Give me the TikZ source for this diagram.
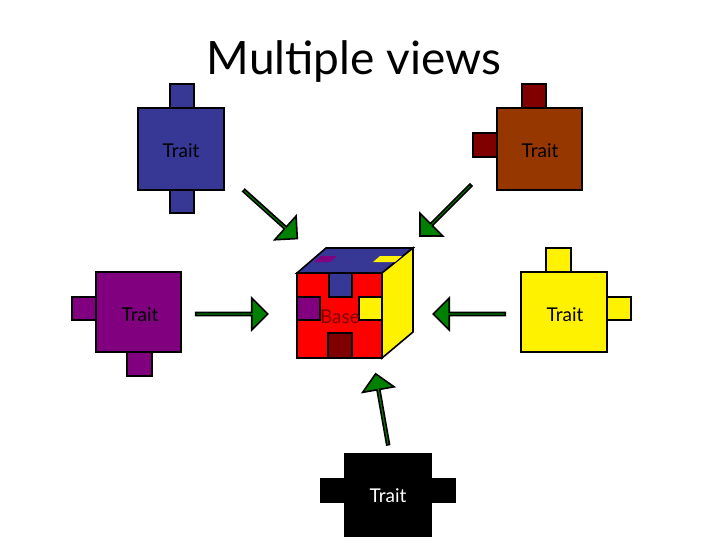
\documentclass[tikz,border=0pt]{standalone}
\usepackage{fontspec}
\setmainfont{Lato}
\usetikzlibrary{shapes.arrows}
\definecolor{traitblue}{RGB}{55,55,150}
\definecolor{traitbrown}{RGB}{150,55,0}
\definecolor{traitdark}{RGB}{128,0,0}
\definecolor{traitpurple}{RGB}{128,0,128}
\definecolor{traitgreen}{RGB}{0,128,0}
\tikzset{
  part/.style={draw=black, line width=1.6pt},
  trait/.style={font=\fontsize{19}{19}\selectfont},
  bigarrow/.style={single arrow, draw=black, line width=1.6pt, fill=traitgreen,
    minimum width=32pt, single arrow head extend=8pt, minimum height=72pt,
    inner sep=0pt, single arrow tip angle=90},
}
\begin{document}
\begin{tikzpicture}[x=1pt,y=-1pt]
    \useasboundingbox (0,0) rectangle (728,546);
    \node (title) at (354,62) {\fontsize{46}{46}\selectfont Multiple views};
    %blue
    \filldraw[part, fill=traitblue] (170,84) rectangle (194,108);
    \filldraw[part, fill=traitblue] (170,190) rectangle (194,213);
    \filldraw[part, fill=traitblue] (138,108) rectangle (224,190);
    \node[trait] (tblue) at (181,151) {Trait};
    %brown
    \filldraw[part, fill=traitdark] (522,84) rectangle (546,108);
    \filldraw[part, fill=traitdark] (473,133) rectangle (497,157);
    \filldraw[part, fill=traitbrown] (497,108) rectangle (582,190);
    \node[trait] (tbrown) at (540,151) {Trait};
    %purple
    \filldraw[part, fill=traitpurple] (72,297) rectangle (96,320);
    \filldraw[part, fill=traitpurple] (127,352) rectangle (152,376);
    \filldraw[part, fill=traitpurple] (96,272) rectangle (181,352);
    \node[trait] (tpurple) at (140,315) {Trait};
    %yellow
    \filldraw[part, fill=yellow] (546,248) rectangle (571,272);
    \filldraw[part, fill=yellow] (607,297) rectangle (631,320);
    \filldraw[part, fill=yellow] (521,272) rectangle (607,352);
    \node[trait] (tyellow) at (565,315) {Trait};
    %black
    \fill (320,478) rectangle (456,503);
    \fill (344,453) rectangle (432,537);
    \node[trait, text=white] (tblack) at (388,496) {Trait};
    %cube
    \filldraw[part, fill=traitblue] (297,273) -- (326,248) -- (413,248) -- (382,273) -- cycle;
    \filldraw[part, fill=yellow] (382,273) -- (413,248) -- (413,332) -- (382,358) -- cycle;
    \filldraw[part, fill=red] (297,273) rectangle (382,358);
    \filldraw[part, fill=traitblue] (329,273) rectangle (352,297);
    \filldraw[part, fill=traitpurple] (297,297) rectangle (320,320);
    \filldraw[part, fill=yellow] (359,297) rectangle (382,320);
    \filldraw[part, fill=traitdark] (328,333) rectangle (352,358);
    \fill[traitpurple] (314,262) -- (321,256) -- (337,256) -- (330,262) -- cycle;
    \fill[yellow] (373,262) -- (380,256) -- (402,256) -- (395,262) -- cycle;
    \node[text=traitdark, font=\fontsize{19}{19}\selectfont] (base) at (340,317) {Base};
    %arrows
    \node[bigarrow, rotate=-42] (ablue) at (270,214) {};
    \node[bigarrow, rotate=-135] (abrown) at (446,210) {};
    \node[bigarrow] (apurple) at (231,314) {};
    \node[bigarrow, rotate=180] (ayellow) at (470,314) {};
    \node[bigarrow, rotate=100] (ablack) at (382,410) {};
\end{tikzpicture}
\end{document}
